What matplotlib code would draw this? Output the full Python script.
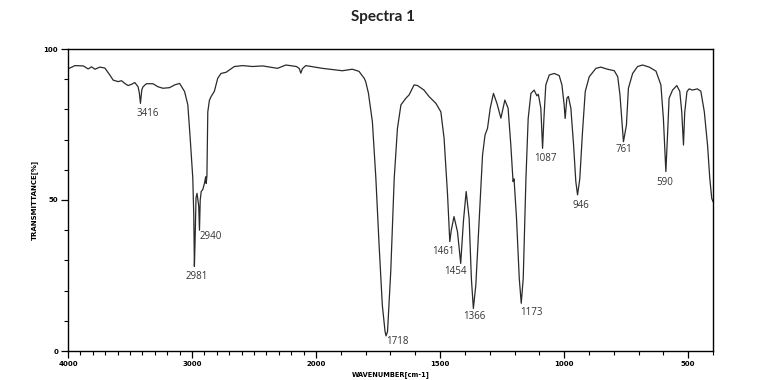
import numpy as np
import matplotlib
matplotlib.use("Agg")
import matplotlib.pyplot as plt
from matplotlib.ticker import FixedLocator, NullFormatter, FixedFormatter

# ---- data (wavenumber cm-1, transmittance %) ----
wavenumber = [4000, 3944, 3877, 3837, 3810, 3783, 3743, 3703, 3663, 3636, 3596, 3569,
              3542, 3516, 3488, 3462, 3435, 3425, 3416, 3405, 3395, 3368, 3315, 3275,
              3234, 3181, 3141, 3100, 3060, 3034, 3015, 2994, 2986, 2981, 2975, 2968,
              2960, 2953, 2946, 2940, 2934, 2926, 2913, 2900, 2890, 2886, 2880, 2873,
              2860, 2847, 2820, 2800, 2793, 2766, 2725, 2659, 2592, 2512, 2431, 2311,
              2243, 2158, 2135, 2123, 2110, 2083, 1975, 1894, 1854, 1827, 1806, 1800,
              1789, 1773, 1759, 1746, 1733, 1722, 1718, 1712, 1699, 1685, 1672, 1658,
              1638, 1625, 1605, 1591, 1565, 1544, 1517, 1497, 1484, 1470, 1461, 1455,
              1444, 1430, 1417, 1406, 1395, 1383, 1374, 1366, 1356, 1343, 1329, 1319,
              1309, 1298, 1285, 1271, 1255, 1239, 1226, 1215, 1206, 1202, 1192, 1181,
              1173, 1165, 1154, 1145, 1134, 1121, 1110, 1104, 1094, 1087, 1081, 1074,
              1060, 1040, 1020, 1009, 1000, 996, 989, 983, 973, 962, 953, 946,
              937, 926, 915, 899, 872, 852, 825, 798, 784, 775, 767, 761,
              749, 741, 724, 704, 684, 657, 630, 610, 600, 590, 583, 577,
              563, 546, 534, 526, 519, 514, 505, 496, 483, 463, 449, 435,
              422, 413, 405, 400]
transmittance = [93.4, 94.5, 94.4, 93.4, 94.1, 93.3, 94.0, 93.7, 91.4, 89.7, 89.2, 89.5,
                 88.6, 87.9, 88.3, 88.9, 87.5, 85.5, 82.0, 86.5, 87.5, 88.5, 88.5, 87.5,
                 87.0, 87.2, 88.1, 88.6, 85.9, 81.5, 70.5, 57.3, 45.0, 28.0, 37.4, 50.7,
                 52.2, 50.0, 48.0, 40.0, 50.0, 52.8, 53.5, 55.5, 57.7, 55.5, 58.0, 79.2,
                 83.0, 84.2, 86.0, 89.2, 90.3, 91.9, 92.3, 94.2, 94.5, 94.2, 94.4, 93.6,
                 94.7, 94.2, 93.5, 92.0, 93.5, 94.5, 93.6, 92.8, 93.3, 92.6, 90.3, 89.2,
                 85.4, 75.9, 57.2, 35.1, 15.2, 6.5, 5.0, 6.4, 26.3, 57.2, 73.7, 81.5,
                 83.7, 84.8, 88.1, 87.9, 86.4, 84.2, 82.0, 79.2, 70.4, 51.7, 36.2, 40.0,
                 44.5, 39.5, 29.0, 43.0, 52.8, 43.9, 24.0, 14.1, 21.9, 42.8, 64.9, 71.5,
                 73.7, 80.4, 85.3, 82.0, 77.1, 83.1, 80.4, 68.2, 56.1, 57.0, 43.9, 24.1,
                 15.8, 24.0, 57.2, 77.0, 85.3, 86.4, 84.5, 85.0, 80.4, 67.1, 78.0, 88.1,
                 91.4, 91.9, 91.2, 88.1, 81.5, 77.0, 83.7, 84.3, 80.4, 68.2, 56.1, 51.7,
                 57.0, 72.6, 85.9, 90.8, 93.6, 94.0, 93.3, 92.8, 90.8, 84.8, 75.9, 69.3,
                 74.8, 87.0, 91.9, 94.2, 94.7, 94.0, 92.7, 88.1, 77.0, 59.4, 72.0, 83.7,
                 86.4, 87.9, 86.0, 79.2, 68.2, 79.0, 85.9, 86.8, 86.4, 86.8, 86.0, 79.2,
                 68.2, 57.2, 50.5, 49.5]

peak_wn = [3416, 2981, 2940, 1718, 1461, 1417, 1366, 1173, 1087, 946, 761, 590]
peak_t = [82.0, 28.0, 40.0, 5.0, 36.2, 29.0, 14.1, 15.8, 67.1, 51.7, 69.3, 59.4]
peak_labels = ["3416", "2981", "2940", "1718", "1461", "1454", "1366", "1173",
               "1087", "946", "761", "590"]
label_offsets = [(7, -10), (2, -10), (11, -6), (11, -6), (-6, -10), (-5, -8),
                 (1, -8), (10, -9), (3, -10), (3, -11), (0, -8), (-1, -11)]

x_major = [4000, 3000, 2000, 1500, 1000, 500]
x_minor = list(range(4000, 399, -100))
y_major = [0, 50, 100]
y_minor = list(range(0, 101, 10))


def fwd(w):
    w = np.asarray(w, dtype=float)
    return np.where(w <= 2000, w, 2000 + (w - 2000) * 0.5)


def inv(u):
    u = np.asarray(u, dtype=float)
    return np.where(u <= 2000, u, 2000 + (u - 2000) * 2.0)


fig = plt.figure(figsize=(7.72, 3.8), dpi=100)
ax = fig.add_axes([68 / 772, 29 / 380, 645 / 772, 302 / 380])
ax.set_xscale("function", functions=(fwd, inv))
ax.plot(wavenumber, transmittance, color="#2a2a2a", lw=0.9)
ax.set_xlim(4000, 400)
ax.set_ylim(0, 100)

ax.xaxis.set_major_locator(FixedLocator(x_major))
ax.xaxis.set_major_formatter(FixedFormatter([str(v) for v in x_major]))
ax.xaxis.set_minor_locator(FixedLocator(x_minor))
ax.xaxis.set_minor_formatter(NullFormatter())
ax.yaxis.set_major_locator(FixedLocator(y_major))
ax.yaxis.set_minor_locator(FixedLocator(y_minor))
ax.yaxis.set_minor_formatter(NullFormatter())

ax.tick_params(which="major", length=5, width=0.9, labelsize=5, pad=2, colors="black")
ax.tick_params(which="minor", length=3, width=0.8)
for lbl in ax.get_xticklabels() + ax.get_yticklabels():
    lbl.set_fontweight("bold")
for s in ax.spines.values():
    s.set_linewidth(1.0)
    s.set_color("black")

for w, t, lab, (dx, dy) in zip(peak_wn, peak_t, peak_labels, label_offsets):
    ax.annotate(lab, xy=(w, t), xytext=(dx, dy), textcoords="offset pixels",
                ha="center", va="center", fontsize=7, family="Open Sans",
                color="#333333")

ax.set_xlabel("WAVENUMBER[cm-1]", fontsize=4.8, fontweight="bold", labelpad=3)
ax.set_ylabel("TRANSMITTANCE[%]", fontsize=5, fontweight="bold", labelpad=4)

fig.text(383 / 772, 1 - 17 / 380, "Spectra 1", ha="center", va="center",
         fontsize=11, fontweight="bold", family="Lato", color="#222222")

fig.savefig("out.png", dpi=100)
